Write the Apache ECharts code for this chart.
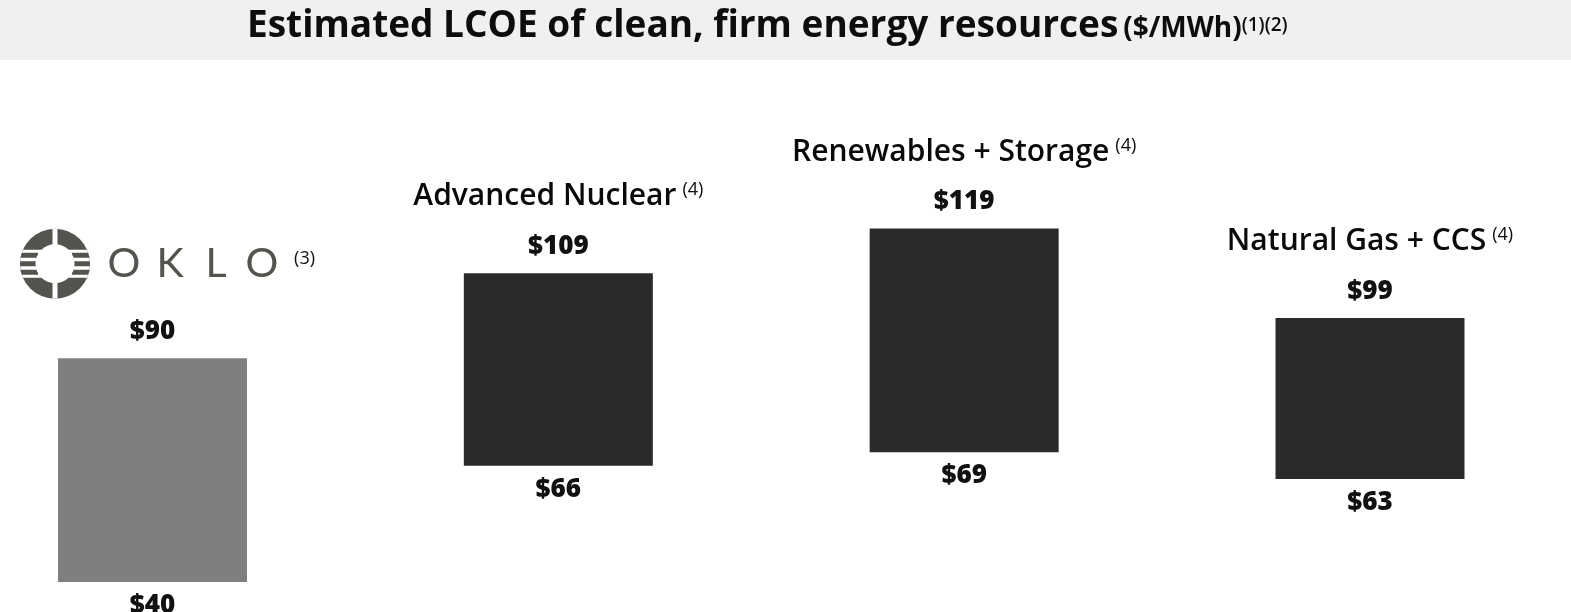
<!DOCTYPE html>
<html>
<head>
<meta charset="utf-8">
<script src="https://cdn.jsdelivr.net/npm/echarts@6/dist/echarts.min.js"></script>
<style>
html,body{margin:0;padding:0;background:#fff;}
#chart{width:1571px;height:612px;}
</style>
</head>
<body>
<div id="chart"></div>
<script>
const categories = ['OKLO', 'Advanced Nuclear', 'Renewables + Storage', 'Natural Gas + CCS'];
const lowValues = [40, 66, 69, 63];
const highValues = [90, 109, 119, 99];
const footnotes = ['(3)', '(4)', '(4)', '(4)'];
const titleMain = 'Estimated LCOE of clean, firm energy resources';
const titleUnit = '($/MWh)';
const titleNotes = '(1)(2)';

const LOGO_GRAY = '#54534e';
const emblemSvg =
  '<svg xmlns="http://www.w3.org/2000/svg" width="111" height="74" viewBox="0 0 111 74">' +
  '<defs><clipPath id="c"><circle cx="65" cy="37" r="35"/></clipPath></defs>' +
  '<g clip-path="url(#c)">' +
  '<rect x="28" y="0" width="75" height="74" fill="' + LOGO_GRAY + '"/>' +
  '<rect x="28" y="23" width="75" height="28" fill="#fff"/>' +
  '<rect x="62.5" y="0" width="5" height="74" fill="#fff"/>' +
  '<rect x="28" y="26" width="20" height="5" fill="' + LOGO_GRAY + '"/>' +
  '<rect x="28" y="34.5" width="20" height="5" fill="' + LOGO_GRAY + '"/>' +
  '<rect x="28" y="43" width="20" height="5" fill="' + LOGO_GRAY + '"/>' +
  '<rect x="82" y="26" width="20" height="5" fill="' + LOGO_GRAY + '"/>' +
  '<rect x="82" y="34.5" width="20" height="5" fill="' + LOGO_GRAY + '"/>' +
  '<rect x="82" y="43" width="20" height="5" fill="' + LOGO_GRAY + '"/>' +
  '</g>' +
  '<circle cx="65" cy="37" r="19.5" fill="#fff"/>' +
  '</svg>';
const emblemUri = 'data:image/svg+xml;charset=utf-8,' + encodeURIComponent(emblemSvg);

const FONT = '"Open Sans", Lato, sans-serif';
const TXT = '#111111';

const chart = echarts.init(document.getElementById('chart'), null, {renderer: 'canvas'});

const topRich = {
  name: {fontFamily: FONT, fontSize: 30, fontWeight: 600, color: '#0a0a0a', lineHeight: 32},
  sup: {fontFamily: FONT, fontSize: 18, fontWeight: 500, color: '#0a0a0a', lineHeight: 32, height: 19, verticalAlign: 'top', padding: [0, 0, 0, 6]},
  sp: {fontSize: 1, lineHeight: 20},
  sp2: {fontSize: 1, lineHeight: 17},
  val: {fontFamily: FONT, fontSize: 26, fontWeight: 800, color: TXT, lineHeight: 28},
  icon: {backgroundColor: {image: emblemUri}, width: 111, height: 74, lineHeight: 74},
  k: {fontFamily: 'Lato, sans-serif', fontSize: 41, fontWeight: 400, color: LOGO_GRAY, width: 46, align: 'center', lineHeight: 74},
  lsup: {fontFamily: FONT, fontSize: 18, fontWeight: 500, color: TXT, lineHeight: 74, height: 64, verticalAlign: 'top', width: 30, align: 'right'}
};

function topFormatter(p) {
  const i = p.dataIndex;
  const val = '{val|$' + highValues[i] + '}';
  if (categories[i] === 'OKLO') {
    const letters = categories[i].split('').map(function (c) { return '{k|' + c + '}'; }).join('');
    return '{icon|}' + letters + '{lsup|' + footnotes[i] + '}\n{sp2| }\n' + val;
  }
  return '{name|' + categories[i] + '}{sup|' + footnotes[i] + '}\n{sp| }\n' + val;
}

const option = {
  animation: false,
  backgroundColor: '#ffffff',
  graphic: [{
    type: 'rect', left: 0, top: 0, z: -10,
    shape: {width: 1571, height: 60},
    style: {fill: '#f0f0f0'}
  }],
  title: {
    left: 247, top: 4, padding: 0,
    text: '{a|' + titleMain + '} {b|' + titleUnit + '}{c|' + titleNotes + '}',
    textStyle: {
      rich: {
        a: {fontFamily: FONT, fontSize: 37, fontWeight: 700, color: '#0d0d0d', lineHeight: 44},
        b: {fontFamily: FONT, fontSize: 28, fontWeight: 700, color: '#0d0d0d', lineHeight: 44, height: 50, verticalAlign: 'top'},
        c: {fontFamily: FONT, fontSize: 19, fontWeight: 600, color: '#0d0d0d', lineHeight: 44, height: 44, verticalAlign: 'top'}
      }
    }
  },
  grid: {left: 152.5, right: 201, top: 45, bottom: 30, containLabel: false},
  xAxis: {type: 'category', data: categories, show: false, boundaryGap: false},
  yAxis: {type: 'value', min: 40, max: 160, show: false},
  series: [
    {
      type: 'bar', stack: 'range', barWidth: 189, silent: true, clip: false,
      itemStyle: {color: 'rgba(0,0,0,0)'},
      data: lowValues
    },
    {
      type: 'bar', stack: 'range', barWidth: 189, clip: false,
      itemStyle: {
        color: function (p) { return categories[p.dataIndex] === 'OKLO' ? '#7f7f7f' : '#2a2a2a'; }
      },
      data: highValues.map(function (h, i) { return h - lowValues[i]; })
    },
    {
      type: 'scatter', symbolSize: 1, silent: true, clip: false,
      itemStyle: {color: 'rgba(0,0,0,0)', opacity: 1},
      label: {show: true, position: 'top', distance: 12, align: 'center', color: TXT, formatter: topFormatter, rich: topRich},
      data: highValues
    },
    {
      type: 'scatter', symbolSize: 1, silent: true, clip: false,
      itemStyle: {color: 'rgba(0,0,0,0)', opacity: 1},
      label: {
        show: true, position: 'bottom', distance: 9, color: TXT,
        formatter: function (p) { return '{val|$' + lowValues[p.dataIndex] + '}'; },
        rich: {val: topRich.val}
      },
      data: lowValues
    }
  ]
};
chart.setOption(option);
</script>
</body>
</html>
